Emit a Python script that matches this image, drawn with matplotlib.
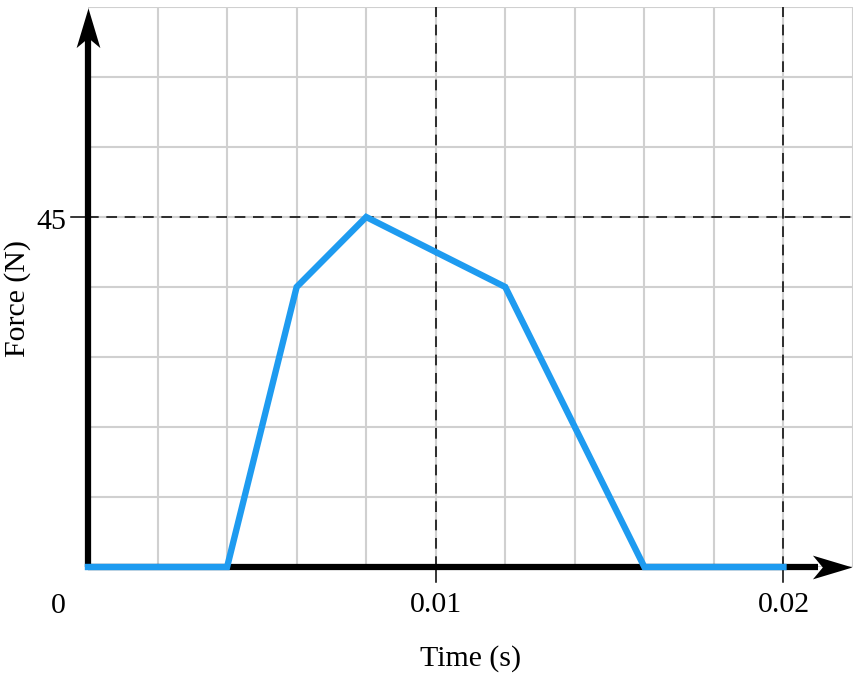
import matplotlib
matplotlib.use('Agg')
import matplotlib.pyplot as plt
import numpy as np
from matplotlib.path import Path

# force-time data
time_s = [0.0, 0.004, 0.006, 0.008, 0.012, 0.016, 0.020]
force_n = [0, 0, 36, 45, 36, 0, 0]

x_max = 0.022
y_max = 72
x_step = 0.002
y_step = 9
x_marks = [0.01, 0.02]
x_mark_labels = ['0.01', '0.02']
y_marks = [45]
y_mark_labels = ['45']

W, H = 859, 674
plt.rcParams['font.family'] = ['Liberation Serif', 'DejaVu Serif']

fig = plt.figure(figsize=(W / 100, H / 100), dpi=100)
ax = fig.add_axes([88 / W, 107 / H, 765 / W, 560 / H])
ax.set_xlim(0, x_max)
ax.set_ylim(0, y_max)
for s in ax.spines.values():
    s.set_visible(False)
ax.set_xticks(np.arange(0, x_max + 1e-9, x_step))
ax.set_yticks(np.arange(0, y_max + 1e-9, y_step))
ax.tick_params(length=0, labelbottom=False, labelleft=False)
ax.grid(True, color='#d0d0d0', linewidth=1.5)
ax.set_axisbelow(True)

# dashed reference lines
dash = dict(color='black', linewidth=1.1, dashes=(7, 5))
for xv in x_marks:
    ax.plot([xv, xv], [0, y_max], **dash)
    ax.plot([xv, xv], [0, -1.9], color='black', lw=1.1, clip_on=False)
for yv in y_marks:
    ax.plot([0, x_max], [yv, yv], **dash)
    ax.plot([-0.0005, 0], [yv, yv], color='black', lw=1.1, clip_on=False)

# axes with arrow heads
ax.plot([0, 0], [0, y_max - 4], color='black', lw=4.5, solid_capstyle='butt', clip_on=False)
ax.plot([0, x_max - 0.001], [0, 0], color='black', lw=4.5, solid_capstyle='butt', clip_on=False)
up = Path([(0, 0), (0.3, -1), (0, -0.75), (-0.3, -1), (0, 0)],
          [Path.MOVETO, Path.LINETO, Path.LINETO, Path.LINETO, Path.CLOSEPOLY])
right = Path([(0, 0), (-1, 0.3), (-0.75, 0), (-1, -0.3), (0, 0)],
             [Path.MOVETO, Path.LINETO, Path.LINETO, Path.LINETO, Path.CLOSEPOLY])
ax.plot(0, y_max - 0.1, marker=up, markersize=57, color='black', markeredgewidth=0, clip_on=False)
ax.plot(x_max - 0.00002, 0, marker=right, markersize=57, color='black', markeredgewidth=0, clip_on=False)

# force curve
ax.plot(time_s, force_n, color='#1E9BF0', lw=4.6, solid_joinstyle='miter', clip_on=False, zorder=5)

# labels
fs = 21.5
def px(x, y):
    return x / W, 1 - y / H

for xv, lab in zip(x_marks, x_mark_labels):
    ax.text(xv, 0, lab, fontsize=fs, ha='center', va='baseline',
            transform=ax.get_xaxis_transform(), clip_on=False)
for t in ax.texts:
    t.set_position((t.get_position()[0], -(612 - 567) / 560))
for yv, lab in zip(y_marks, y_mark_labels):
    fig.text(66 / W, 1 - 229 / H, lab, fontsize=fs, ha='right', va='baseline')
fig.text(*px(58, 613), '0', fontsize=fs, ha='center', va='baseline')
fig.text(*px(471, 666), 'Time (s)', fontsize=fs, ha='center', va='baseline')
fig.text(*px(18, 298), 'Force (N)', fontsize=fs, ha='center', va='center', rotation=90)

fig.savefig('out.png', dpi=100)
